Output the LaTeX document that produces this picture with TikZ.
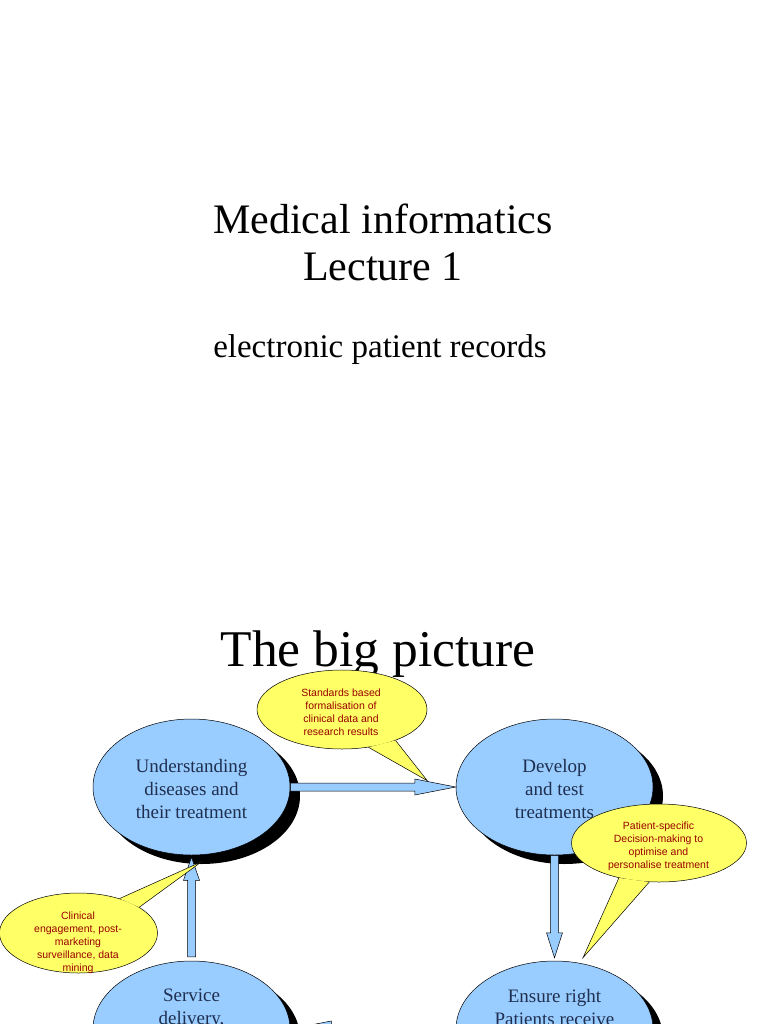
\documentclass[tikz,border=0pt]{standalone}
\usepackage{fontspec}
\setmainfont{Liberation Serif}
\setsansfont{Liberation Sans}
\usetikzlibrary{calc,shapes.geometric}
\definecolor{blobblue}{HTML}{99CCFF}
\definecolor{callyellow}{HTML}{FFFF66}
\definecolor{callred}{HTML}{990000}
\definecolor{blobtext}{HTML}{1F2F4F}
\tikzset{
	blob/.style={ellipse, draw=black, fill=blobblue, line width=.5pt, minimum width=197pt, minimum height=136pt, inner sep=0pt, align=center, text=blobtext, font=\fontsize{19}{23}\selectfont},
	blobshadow/.style={ellipse, fill=black, minimum width=197pt, minimum height=136pt, inner sep=0pt},
	blobtxt/.style={align=center, text=blobtext, font=\fontsize{19}{23}\selectfont},
	callout/.style={ellipse, draw=black, fill=callyellow, line width=.5pt, inner sep=0pt, align=center, text=callred, font=\sffamily\fontsize{10.5}{13}\selectfont},
	calltail/.style={draw=black, fill=callyellow, line width=.5pt},
	heading/.style={align=center, text=black},
	blockarrow/.style={draw=black, fill=blobblue, line width=.5pt, to path={
		-- ($(\tikztostart)!4pt!90:(\tikztotarget)$)
		-- ($($(\tikztotarget)!#1!(\tikztostart)$)!4pt!90:(\tikztotarget)$)
		-- ($($(\tikztotarget)!#1!(\tikztostart)$)!8pt!90:(\tikztotarget)$)
		-- (\tikztotarget)
		-- ($($(\tikztotarget)!#1!(\tikztostart)$)!8pt!-90:(\tikztotarget)$)
		-- ($($(\tikztotarget)!#1!(\tikztostart)$)!4pt!-90:(\tikztotarget)$)
		-- ($(\tikztostart)!4pt!-90:(\tikztotarget)$)
		-- cycle}}
}
\begin{document}
\begin{tikzpicture}[x=1pt,y=-1pt]
	\clip (0,0) rectangle (768,1024);
	\fill[white] (0,0) rectangle (768,1024);
	% titles
	\node[heading, font=\fontsize{42}{47}\selectfont] (title) at (383,242) {Medical informatics\\Lecture 1};
	\node[heading, font=\fontsize{33}{38}\selectfont] (subtitle) at (380,350) {electronic patient records};
	\node[heading, font=\fontsize{51.5}{60}\selectfont] (bigtitle) at (378,654) {The big picture};
	% shadows
	\node[blobshadow] (undershadow) at (201.5,796) {};
	\node[blobshadow] (devshadow) at (564.5,796) {};
	\node[blobshadow] (svcshadow) at (201.5,1038) {};
	\node[blobshadow] (ensshadow) at (564.5,1038) {};
	% the four steps
	\node[blob] (under) at (191.5,787) {};
	\node[blob] (dev) at (554.5,787) {};
	\node[blob] (svc) at (191.5,1029) {};
	\node[blob] (ens) at (554.5,1029) {};
	\node[blobtxt] (undertext) at (191.5,789) {Understanding\\diseases and\\their treatment};
	\node[blobtxt] (devtext) at (554.5,789) {Develop\\and test\\treatments};
	\node[blobtxt] (svctext) at (191.5,1009) {Service\\delivery,};
	\node[blobtxt] (enstext) at (554.5,1007) {Ensure right\\Patients receive};
	% arrows
	\draw[blockarrow=41pt] (under.east) to (dev.west);
	\draw[blockarrow=25pt] (dev.south) to ($(ens.north)+(0,-3)$);
	\draw[blockarrow=41pt] (ens.west) to (svc.east);
	\draw[blockarrow=23pt] ($(svc.north)+(0,-4)$) to ($(under.south)+(0,2)$);
	% callouts
	\node[callout, minimum width=170pt, minimum height=79pt] (callstd) at (342,709.5) {};
	\node[callout, minimum width=158pt, minimum height=80pt] (callclin) at (78.5,933) {};
	\node[callout, minimum width=175pt, minimum height=78pt] (callpat) at (659,843) {};
	\coordinate (stdtip) at (427.3,780.7);
	\coordinate (clintip) at (201.7,861.7);
	\coordinate (pattip) at (583,957.7);
	\filldraw[calltail] (callstd.-55) -- (stdtip) -- (callstd.-30);
	\filldraw[calltail] (callclin.40) -- (clintip) -- (callclin.23);
	\filldraw[calltail] (callpat.-139) -- (pattip) -- (callpat.-104);
	\node[callout, draw=none, fill=none] (stdtext) at (341,712) {Standards based\\formalisation of\\clinical data and\\research results};
	\node[callout, draw=none, fill=none] (clintext) at (78,943) {Clinical\\engagement, post-\\marketing\\surveillance, data\\mining};
	\node[callout, draw=none, fill=none] (pattext) at (658.5,846.5) {Patient-specific\\Decision-making to\\optimise and\\personalise treatment};
\end{tikzpicture}
\end{document}
